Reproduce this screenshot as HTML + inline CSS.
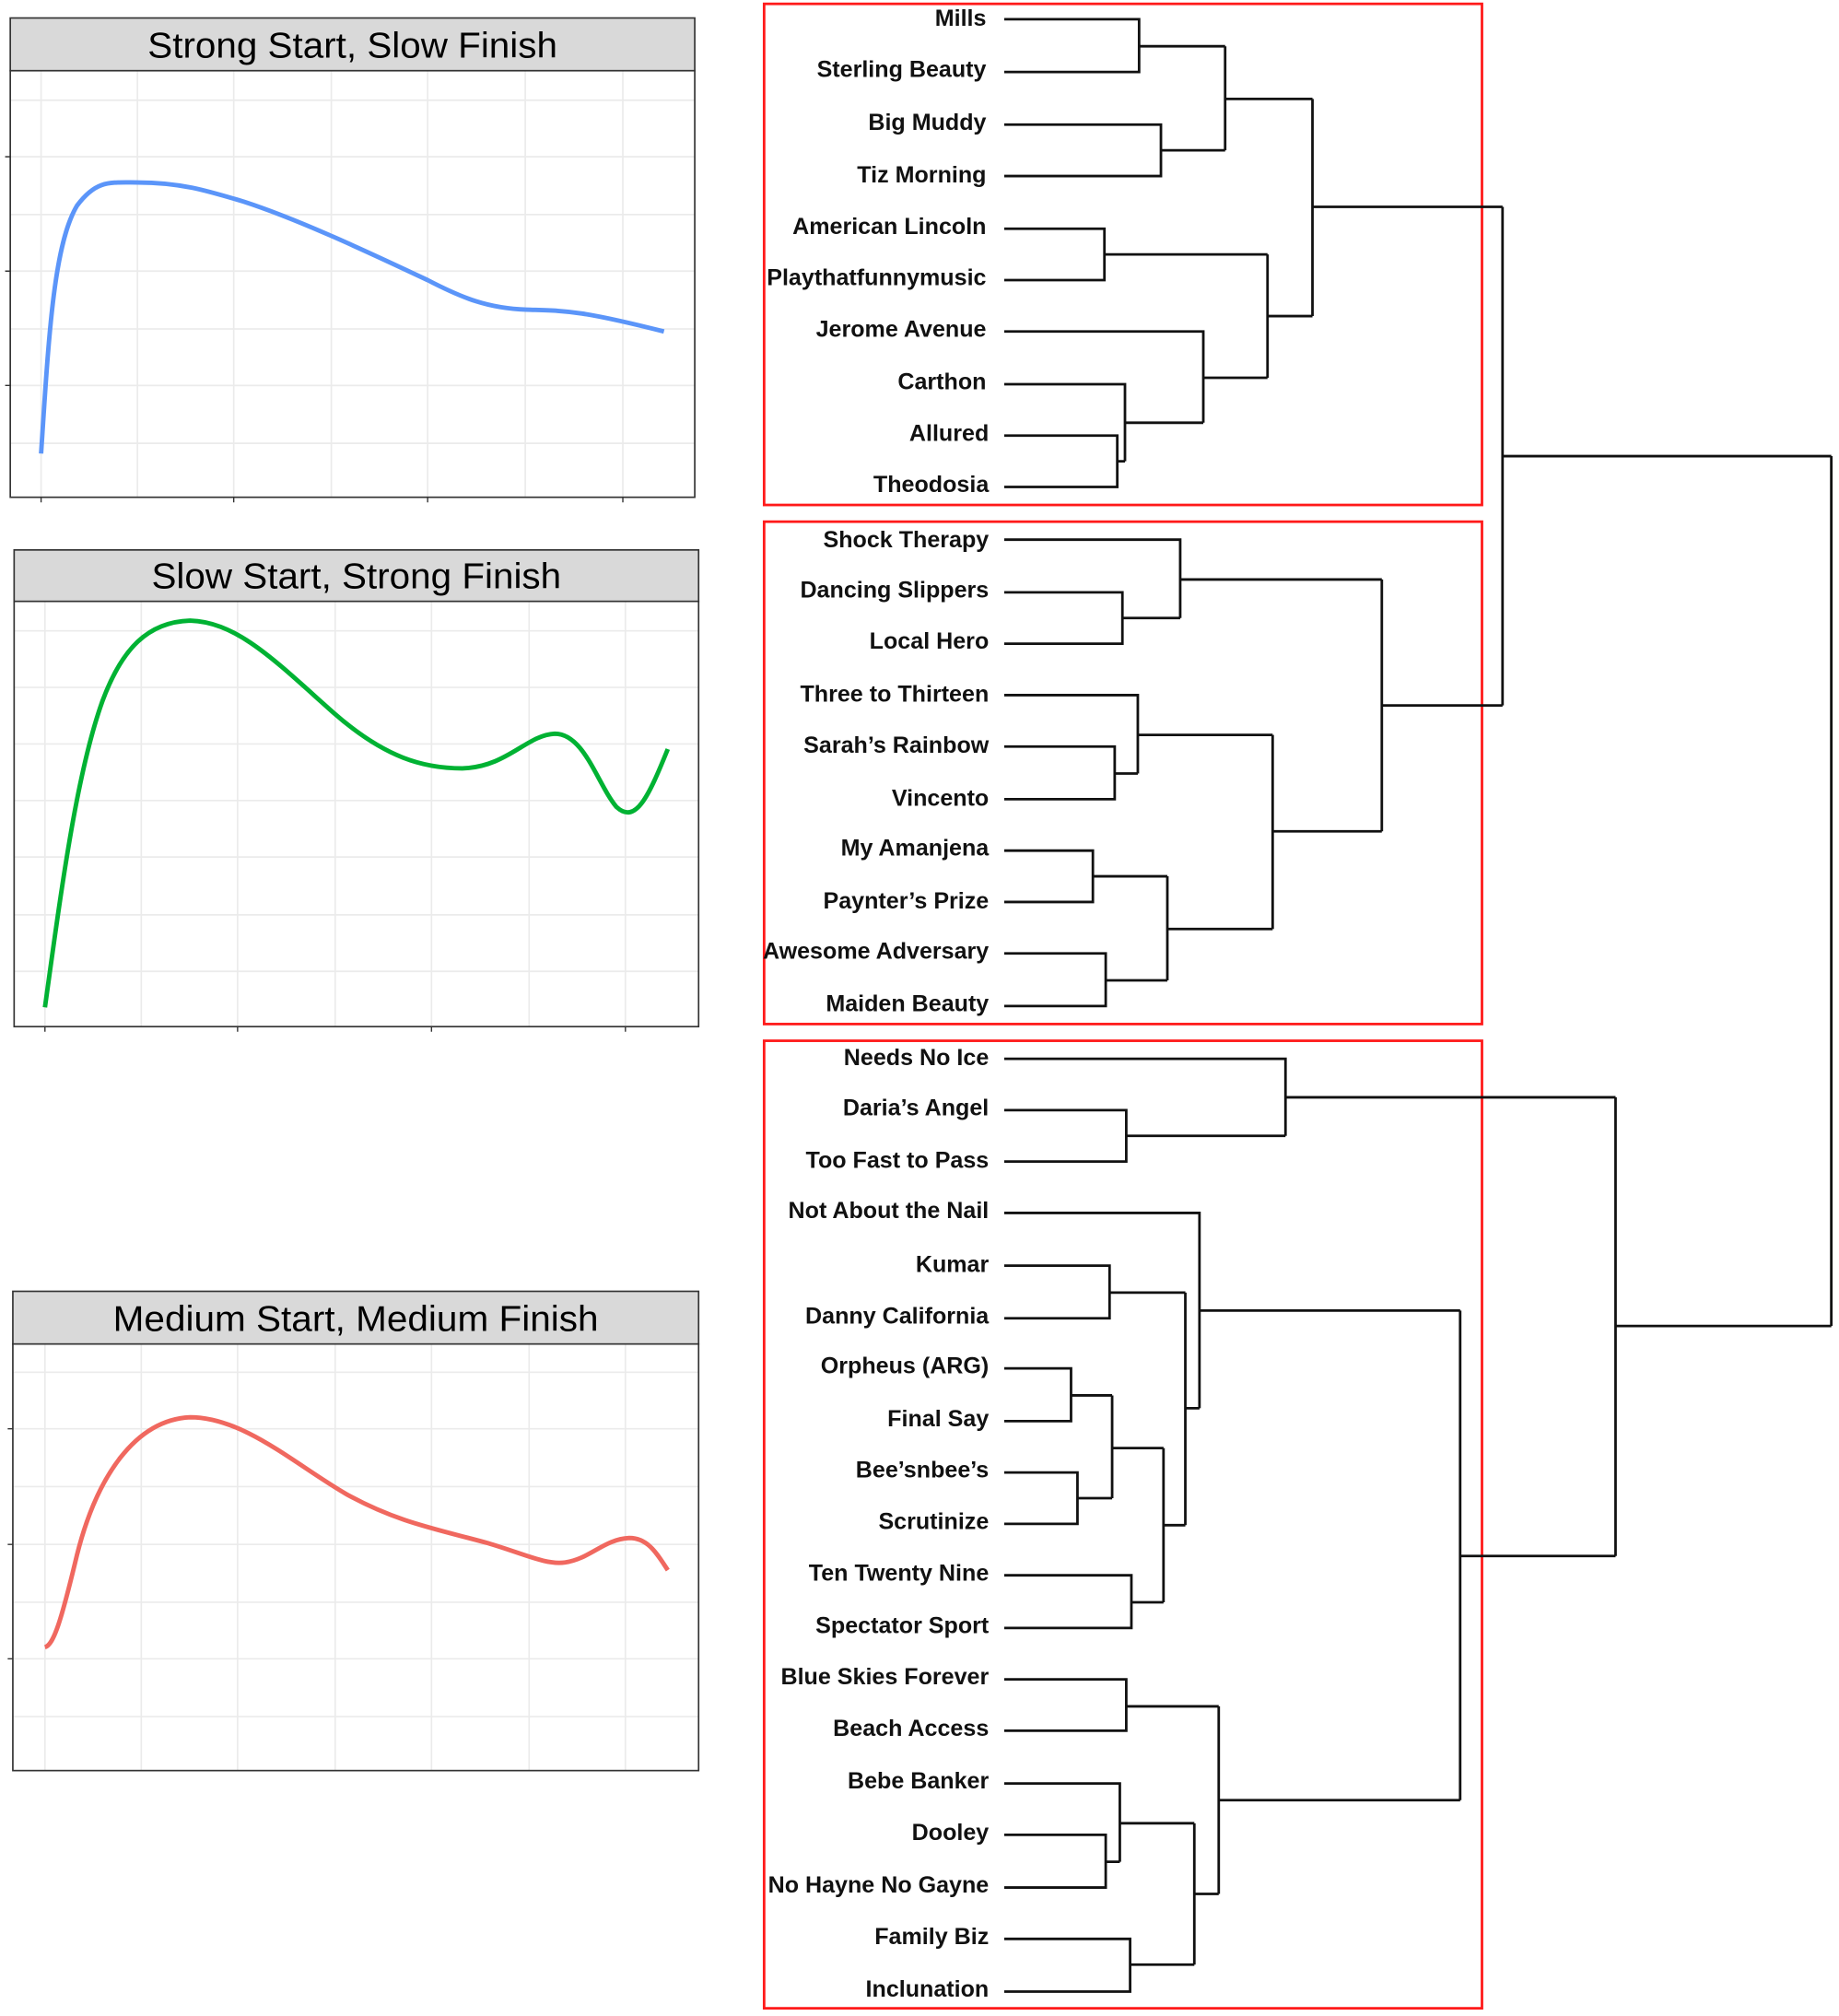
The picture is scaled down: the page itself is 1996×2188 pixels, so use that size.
<!DOCTYPE html>
<html><head><meta charset="utf-8"><style>html,body{margin:0;padding:0;background:#fff}svg{display:block}</style></head>
<body>
<svg width="1996" height="2188" viewBox="0 0 1432 1569" preserveAspectRatio="none" xmlns="http://www.w3.org/2000/svg">
<g font-family="Liberation Sans, sans-serif">
<!-- Panel 1 -->
<rect x="8" y="55" width="533" height="332" fill="#fff"/>
<g stroke="#ebebeb" stroke-width="1.2">
<path d="M8 78H541M8 122H541M8 167H541M8 211H541M8 256H541M8 300H541M8 345H541"/>
<path d="M32 55V387M107 55V387M182 55V387M258 55V387M333 55V387M409 55V387M485 55V387"/>
</g>
<rect x="8" y="55" width="533" height="332" fill="none" stroke="#333" stroke-width="1.2"/>
<rect x="8" y="14" width="533" height="41" fill="#d9d9d9" stroke="#333" stroke-width="1.2"/>
<text x="274.5" y="45" font-size="28" text-anchor="middle" textLength="319" lengthAdjust="spacingAndGlyphs">Strong Start, Slow Finish</text>
<path d="M4 122H8M4 211H8M4 300H8M32 387V391M182 387V391M333 387V391M485 387V391" stroke="#333"/>
<path d="M32 353 C38 260 42 190 60 160 C75 140 85 142 107 142 C140 142 160 148 190 157 C230 170 280 193 333 218 C360 232 380 240 410 241 C440 242 450 241 517 258" fill="none" stroke="#5b95f9" stroke-width="3.5"/>

<!-- Panel 2 -->
<rect x="11" y="468" width="533" height="331" fill="#fff"/>
<g stroke="#ebebeb" stroke-width="1.2">
<path d="M11 491H544M11 535H544M11 579H544M11 623H544M11 667H544M11 712H544M11 756H544"/>
<path d="M35 468V799M110 468V799M185 468V799M261 468V799M336 468V799M412 468V799M487 468V799"/>
</g>
<rect x="11" y="468" width="533" height="331" fill="none" stroke="#333" stroke-width="1.2"/>
<rect x="11" y="428" width="533" height="40" fill="#d9d9d9" stroke="#333" stroke-width="1.2"/>
<text x="277.5" y="458" font-size="28" text-anchor="middle" textLength="319" lengthAdjust="spacingAndGlyphs">Slow Start, Strong Finish</text>
<path d="M35 799V803M185 799V803M336 799V803M487 799V803" stroke="#333"/>
<path d="M35 784 C48 690 60 600 80 545 C95 505 115 484 148 483 C185 484 215 515 260 555 C300 590 330 598 360 598 C395 597 410 572 432 571 C455 571 465 610 480 628 C495 642 505 620 520 583" fill="none" stroke="#00b233" stroke-width="3.5"/>

<!-- Panel 3 -->
<rect x="10" y="1046" width="534" height="332" fill="#fff"/>
<g stroke="#ebebeb" stroke-width="1.2">
<path d="M10 1068H544M10 1112H544M10 1157H544M10 1202H544M10 1247H544M10 1291H544M10 1336H544"/>
<path d="M35 1046V1378M110 1046V1378M185 1046V1378M261 1046V1378M336 1046V1378M412 1046V1378M487 1046V1378"/>
</g>
<rect x="10" y="1046" width="534" height="332" fill="none" stroke="#333" stroke-width="1.2"/>
<rect x="10" y="1005" width="534" height="41" fill="#d9d9d9" stroke="#333" stroke-width="1.2"/>
<text x="277" y="1036" font-size="28" text-anchor="middle" textLength="378" lengthAdjust="spacingAndGlyphs">Medium Start, Medium Finish</text>
<path d="M6 1112H10M6 1202H10M6 1291H10" stroke="#333"/>
<path d="M35 1282 C42 1280 48 1260 60 1210 C75 1150 105 1105 148 1103 C190 1103 230 1140 270 1163 C310 1185 340 1190 380 1201 C410 1210 425 1218 440 1216 C460 1213 470 1198 490 1197 C505 1197 512 1210 520 1222" fill="none" stroke="#f0685f" stroke-width="3.5"/>

<!-- Red boxes -->
<g fill="none" stroke="#ff1a1a" stroke-width="2">
<rect x="595" y="3" width="559" height="390"/>
<rect x="595" y="406" width="559" height="391"/>
<rect x="595" y="810" width="559" height="753"/>
</g>

<!-- Labels -->
<g font-size="18" font-weight="bold" text-anchor="end" fill="#111">
<text x="768" y="20">Mills</text>
<text x="768" y="60">Sterling Beauty</text>
<text x="768" y="101">Big Muddy</text>
<text x="768" y="142">Tiz Morning</text>
<text x="768" y="182">American Lincoln</text>
<text x="768" y="222">Playthatfunnymusic</text>
<text x="768" y="262">Jerome Avenue</text>
<text x="768" y="303">Carthon</text>
<text x="770" y="343">Allured</text>
<text x="770" y="383">Theodosia</text>
<text x="770" y="426">Shock Therapy</text>
<text x="770" y="465">Dancing Slippers</text>
<text x="770" y="505">Local Hero</text>
<text x="770" y="546">Three to Thirteen</text>
<text x="770" y="586">Sarah’s Rainbow</text>
<text x="770" y="627">Vincento</text>
<text x="770" y="666">My Amanjena</text>
<text x="770" y="707">Paynter’s Prize</text>
<text x="770" y="746">Awesome Adversary</text>
<text x="770" y="787">Maiden Beauty</text>
<text x="770" y="829">Needs No Ice</text>
<text x="770" y="868">Daria’s Angel</text>
<text x="770" y="909">Too Fast to Pass</text>
<text x="770" y="948">Not About the Nail</text>
<text x="770" y="990">Kumar</text>
<text x="770" y="1030">Danny California</text>
<text x="770" y="1069">Orpheus (ARG)</text>
<text x="770" y="1110">Final Say</text>
<text x="770" y="1150">Bee’snbee’s</text>
<text x="770" y="1190">Scrutinize</text>
<text x="770" y="1230">Ten Twenty Nine</text>
<text x="770" y="1271">Spectator Sport</text>
<text x="770" y="1311">Blue Skies Forever</text>
<text x="770" y="1351">Beach Access</text>
<text x="770" y="1392">Bebe Banker</text>
<text x="770" y="1432">Dooley</text>
<text x="770" y="1473">No Hayne No Gayne</text>
<text x="770" y="1513">Family Biz</text>
<text x="770" y="1554">Inclunation</text>
</g>

<!-- Dendrogram -->
<g fill="none" stroke="#111" stroke-width="2">
<path d="M782 15H887V56H782M887 36H954"/>
<path d="M782 97H904V137H782M904 117H954"/>
<path d="M954 36V117M954 77H1022"/>
<path d="M782 178H860V218H782M860 198H987"/>
<path d="M782 339H870V379H782M870 359H876"/>
<path d="M782 299H876V359M876 329H937"/>
<path d="M782 258H937V329M937 294H987"/>
<path d="M987 198V294M987 246H1022"/>
<path d="M1022 77V246M1022 161H1170"/>

<path d="M782 461H874V501H782M874 481H919"/>
<path d="M782 420H919V481M919 451H1076"/>
<path d="M782 581H868V622H782M868 602H886"/>
<path d="M782 541H886V602M886 572H991"/>
<path d="M782 662H851V702H782M851 682H909"/>
<path d="M782 742H861V783H782M861 763H909"/>
<path d="M909 682V763M909 723H991"/>
<path d="M991 572V723M991 647H1076"/>
<path d="M1076 451V647M1076 549H1170"/>
<path d="M1170 161V549M1170 355H1426"/>

<path d="M782 864H877V904H782M877 884H1001"/>
<path d="M782 824H1001V884M1001 854H1258"/>
<path d="M782 985H864V1026H782M864 1006H923"/>
<path d="M782 1065H834V1106H782M834 1086H866"/>
<path d="M782 1146H839V1186H782M839 1166H866"/>
<path d="M866 1086V1166M866 1127H906"/>
<path d="M782 1226H881V1267H782M881 1247H906"/>
<path d="M906 1127V1247M906 1187H923"/>
<path d="M923 1006V1187M923 1096H934"/>
<path d="M782 944H934V1096M934 1020H1137"/>
<path d="M782 1307H877V1347H782M877 1328H949"/>
<path d="M782 1428H861V1469H782M861 1449H872"/>
<path d="M782 1388H872V1449M872 1419H930"/>
<path d="M782 1509H880V1550H782M880 1529H930"/>
<path d="M930 1419V1529M930 1474H949"/>
<path d="M949 1328V1474M949 1401H1137"/>
<path d="M1137 1020V1401M1137 1211H1258"/>
<path d="M1258 854V1211M1258 1032H1426"/>
<path d="M1426 355V1032"/>
</g>
</g>
</svg>
</body></html>
